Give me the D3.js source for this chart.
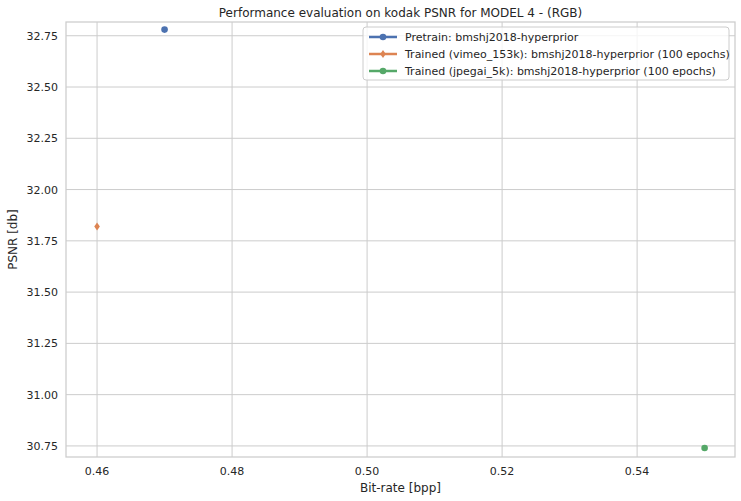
<!DOCTYPE html><html><head><script src="https://cdn.jsdelivr.net/npm/d3@7"></script>
<style>body{margin:0;background:#fff}text{font-family:"DejaVu Sans",sans-serif;fill:#262626}</style></head><body>
<svg id="c" width="741" height="501"></svg>
<script>
const seriesNames=["Pretrain: bmshj2018-hyperprior","Trained (vimeo_153k): bmshj2018-hyperprior (100 epochs)","Trained (jpegai_5k): bmshj2018-hyperprior (100 epochs)"];
const bpp=[0.47,0.46,0.55];
const psnr=[32.78,31.82,30.74];
const colors=["#4c72b0","#dd8452","#55a868"];
const markers=["circle","diamond","circle"];
const xTicks=[0.46,0.48,0.50,0.52,0.54];
const yTicks=[30.75,31.00,31.25,31.50,31.75,32.00,32.25,32.50,32.75];
const svg=d3.select("#c");
const L=66,R=735,T=22,B=457;
const x=d3.scaleLinear().domain([0.4554,0.5545]).range([L,R]);
const y=d3.scaleLinear().domain([30.696,32.817]).range([B,T]);
const g=svg.append("g");
g.selectAll(".vx").data(xTicks).join("line").attr("x1",d=>x(d)).attr("x2",d=>x(d)).attr("y1",T).attr("y2",B).attr("stroke","#cccccc");
g.selectAll(".hy").data(yTicks).join("line").attr("y1",d=>y(d)).attr("y2",d=>y(d)).attr("x1",L).attr("x2",R).attr("stroke","#cccccc");
svg.append("rect").attr("x",L).attr("y",T).attr("width",R-L).attr("height",B-T).attr("fill","none").attr("stroke","#cccccc").attr("stroke-width",1.25);
svg.selectAll(".xl").data(xTicks).join("text").attr("x",d=>x(d)).attr("y",B+18).attr("text-anchor","middle").attr("font-size",11).text(d=>d.toFixed(2));
svg.selectAll(".yl").data(yTicks).join("text").attr("x",L-8).attr("y",d=>y(d)+4).attr("text-anchor","end").attr("font-size",11).text(d=>d.toFixed(2));
svg.append("text").attr("x",(L+R)/2).attr("y",492).attr("text-anchor","middle").attr("font-size",12).text("Bit-rate [bpp]");
svg.append("text").attr("transform",`translate(17,${(T+B)/2}) rotate(-90)`).attr("text-anchor","middle").attr("font-size",12).text("PSNR [db]");
svg.append("text").attr("x",(L+R)/2).attr("y",17).attr("text-anchor","middle").attr("font-size",12).text("Performance evaluation on kodak PSNR for MODEL 4 - (RGB)");
function mark(sel,m,cx,cy,c,s){
 if(m==="circle") sel.append("circle").attr("cx",cx).attr("cy",cy).attr("r",s).attr("fill",c);
 else sel.append("path").attr("d",`M${cx},${cy-s*1.2}L${cx+s*0.85},${cy}L${cx},${cy+s*1.2}L${cx-s*0.85},${cy}Z`).attr("fill",c);
}
bpp.forEach((b,i)=>mark(svg,markers[i],x(b),y(psnr[i]),colors[i],3.3));
const lg=svg.append("g");
lg.append("rect").attr("x",363).attr("y",27).attr("width",366).attr("height",53).attr("rx",3).attr("fill","#fff").attr("fill-opacity",0.8).attr("stroke","#cccccc");
seriesNames.forEach((n,i)=>{const yy=37+i*17;
 lg.append("line").attr("x1",369).attr("x2",397).attr("y1",yy).attr("y2",yy).attr("stroke",colors[i]).attr("stroke-width",2.5);
 mark(lg,markers[i],383,yy,colors[i],3.3);
 lg.append("text").attr("x",405).attr("y",yy+4).attr("font-size",11).text(n);});
</script></body></html>
